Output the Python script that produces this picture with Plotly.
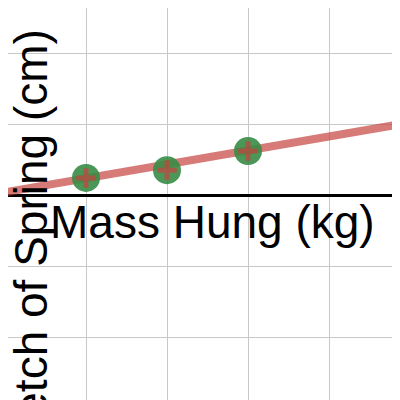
import plotly.graph_objects as go

mass = [1, 2, 3]
stretch = [0.24, 0.35, 0.62]
fit_x = [-0.2, 5.0]
fit_y = [0.0, 1.02]

W = H = 400
off = 8  # page body margin
x0, xs = 5 - off, 81.0
y0, ys = 195 - off, 71.0
xr = [(0 - x0) / xs, (W - x0) / xs]
yr = [(y0 - H) / ys, y0 / ys]

fig = go.Figure()
fig.add_trace(go.Scatter(x=fit_x, y=fit_y, mode="lines",
                         line=dict(color="#c74440", width=8), opacity=0.7))
fig.add_trace(go.Scatter(x=mass, y=stretch, mode="markers",
                         marker=dict(size=28, color="#388c46"), opacity=0.9))
fig.add_trace(go.Scatter(x=mass, y=stretch, mode="markers",
                         marker=dict(size=14, symbol="cross-thin",
                                     line=dict(color="#c74440", width=5)), opacity=0.7))

ax = dict(showticklabels=False, ticks="", showgrid=True, gridcolor="#c8c8c8",
          gridwidth=1, dtick=1, zeroline=True, zerolinecolor="black",
          zerolinewidth=3, fixedrange=True)
fig.update_xaxes(range=xr, tick0=0, **ax)
fig.update_yaxes(range=yr, tick0=0, **ax)

fig.add_annotation(text="Mass Hung (kg)", x=(48 - off) / W, y=1 - (222 - off) / H, xref="paper", yref="paper",
                   xanchor="left", yanchor="middle", showarrow=False,
                   font=dict(family="Arial, Liberation Sans", size=46, color="black"))
fig.add_annotation(text="Stretch of Spring (cm)", x=(30 - off) / W, y=1 - (28 - off) / H, xref="paper", yref="paper",
                   xanchor="center", yanchor="top", textangle=-90, showarrow=False,
                   font=dict(family="Arial, Liberation Sans", size=46, color="black"))

fig.update_layout(width=W, height=H, margin=dict(l=0, r=0, t=0, b=0),
                  plot_bgcolor="white", paper_bgcolor="white", showlegend=False)
fig.write_html("out.html")
